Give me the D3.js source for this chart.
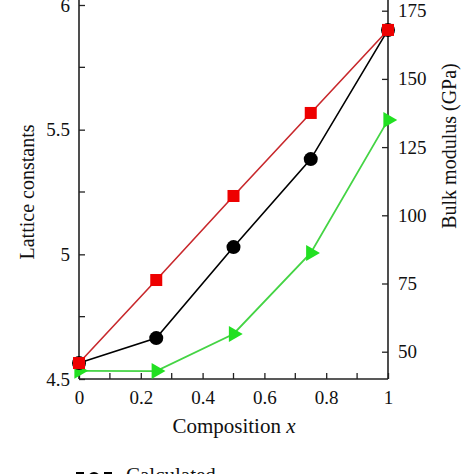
<!DOCTYPE html>
<html><head><meta charset="utf-8">
<script src="https://cdn.jsdelivr.net/npm/d3@7"></script>
<style>html,body{margin:0;padding:0;background:#fff;}svg{display:block;}</style>
</head><body>
<svg id="c" width="474" height="474"></svg>
<script>
const composition = [0, 0.25, 0.5, 0.75, 1];
const vegard = [4.564, 4.897, 5.234, 5.567, 5.90];
const latticeCalc = [4.564, 4.664, 5.029, 5.382, 5.90];
const bulkModulus = [43.0, 42.9, 56.5, 86.2, 134.9];
const xTicks = [0, 0.2, 0.4, 0.6, 0.8, 1];
const xMinor = [0.1, 0.3, 0.5, 0.7, 0.9];
const leftTicks = [4.5, 5, 5.5, 6];
const leftMinor = [4.75, 5.25, 5.75];
const rightTicks = [50, 75, 100, 125, 150, 175];

const svg = d3.select("#c");
const font = "'Liberation Serif', 'DejaVu Serif', serif";
const x = d3.scaleLinear().domain([0, 1]).range([79, 388]);
const yL = d3.scaleLinear().domain([4.5, 6]).range([379, 5]);
const yR = d3.scaleLinear().domain([50, 175]).range([351.7, 10.7]);

const axisColor = "#222";
svg.append("line").attr("x1", x(0)).attr("x2", x(0)).attr("y1", yL(4.5)).attr("y2", yL(6.05)).attr("stroke", axisColor).attr("stroke-width", 1.6);
svg.append("line").attr("x1", x(1)).attr("x2", x(1)).attr("y1", yL(4.5)).attr("y2", yL(6.05)).attr("stroke", axisColor).attr("stroke-width", 1.6);
svg.append("line").attr("x1", x(0)).attr("x2", x(1)).attr("y1", yL(4.5)).attr("y2", yL(4.5)).attr("stroke", axisColor).attr("stroke-width", 1.6);

const tl = 6;
const fs = 19;
const bottom = d3.axisBottom(x).tickValues(xTicks).tickSizeInner(-tl).tickSizeOuter(0).tickPadding(12).tickFormat(d => d === 0 || d === 1 ? String(d) : d3.format(".1f")(d));
const gB = svg.append("g").attr("transform", `translate(0,${yL(4.5)})`).call(bottom);
gB.select(".domain").remove();
gB.selectAll(".tick line").attr("stroke", axisColor).attr("stroke-width", 1.3);
gB.selectAll(".tick text").attr("font-family", font).attr("font-size", fs).attr("fill", "#111");
svg.append("g").selectAll("line").data(xMinor).join("line")
  .attr("x1", d => x(d)).attr("x2", d => x(d)).attr("y1", yL(4.5)).attr("y2", yL(4.5) - tl)
  .attr("stroke", axisColor).attr("stroke-width", 1.3);

const left = d3.axisLeft(yL).tickValues(leftTicks).tickSizeInner(-tl).tickSizeOuter(0).tickPadding(9).tickFormat(d => String(d));
const gL = svg.append("g").attr("transform", `translate(${x(0)},0)`).call(left);
gL.select(".domain").remove();
gL.selectAll(".tick line").attr("stroke", axisColor).attr("stroke-width", 1.3);
gL.selectAll(".tick text").attr("font-family", font).attr("font-size", fs).attr("fill", "#111");
svg.append("g").selectAll("line").data(leftMinor).join("line")
  .attr("x1", x(0)).attr("x2", x(0) + tl).attr("y1", d => yL(d)).attr("y2", d => yL(d))
  .attr("stroke", axisColor).attr("stroke-width", 1.3);

const right = d3.axisRight(yR).tickValues(rightTicks).tickSizeInner(-tl).tickSizeOuter(0).tickPadding(10).tickFormat(d => String(d));
const gR = svg.append("g").attr("transform", `translate(${x(1)},0)`).call(right);
gR.select(".domain").remove();
gR.selectAll(".tick line").attr("stroke", axisColor).attr("stroke-width", 1.3);
gR.selectAll(".tick text").attr("font-family", font).attr("font-size", fs).attr("fill", "#111");

svg.append("text").attr("transform", `translate(34,192) rotate(-90)`).attr("text-anchor", "middle")
  .attr("font-family", font).attr("font-size", 20).attr("fill", "#111").text("Lattice constants");
svg.append("text").attr("transform", `translate(456,146) rotate(-90)`).attr("text-anchor", "middle")
  .attr("font-family", font).attr("font-size", 20).attr("fill", "#111").text("Bulk modulus (GPa)");
const xt = svg.append("text").attr("x", 234).attr("y", 433).attr("text-anchor", "middle")
  .attr("font-family", font).attr("font-size", 21).attr("fill", "#111");
xt.append("tspan").text("Composition ");
xt.append("tspan").attr("font-style", "italic").text("x");

const lineL = d3.line().x((d, i) => x(composition[i])).y(d => yL(d));
const lineR = d3.line().x((d, i) => x(composition[i])).y(d => yR(d));

svg.append("path").datum(bulkModulus).attr("d", lineR).attr("fill", "none").attr("stroke", "#44d444").attr("stroke-width", 1.8);
svg.append("path").datum(latticeCalc).attr("d", lineL).attr("fill", "none").attr("stroke", "#000").attr("stroke-width", 1.6);
svg.append("path").datum(vegard).attr("d", lineL).attr("fill", "none").attr("stroke", "#c8282c").attr("stroke-width", 1.6);

const tri = d3.symbol().type(d3.symbolTriangle).size(110);
svg.append("g").selectAll("path").data(bulkModulus).join("path")
  .attr("d", tri).attr("transform", (d, i) => `translate(${x(composition[i])},${yR(d)}) rotate(90)`)
  .attr("fill", "#22e022");
svg.append("g").selectAll("circle").data(latticeCalc).join("circle")
  .attr("cx", (d, i) => x(composition[i])).attr("cy", d => yL(d)).attr("r", 7).attr("fill", "#000");
svg.append("g").selectAll("rect").data(vegard).join("rect")
  .attr("x", (d, i) => x(composition[i]) - 6).attr("y", d => yL(d) - 6).attr("width", 12).attr("height", 12)
  .attr("fill", "#ee0000");

// legend (cut off at bottom edge, as in the reference)
svg.append("line").attr("x1", 76).attr("x2", 84).attr("y1", 473).attr("y2", 473).attr("stroke", "#000").attr("stroke-width", 2);
svg.append("circle").attr("cx", 94).attr("cy", 478).attr("r", 6).attr("fill", "#000");
svg.append("line").attr("x1", 104).attr("x2", 112).attr("y1", 473).attr("y2", 473).attr("stroke", "#000").attr("stroke-width", 2);
svg.append("text").attr("x", 126).attr("y", 482).attr("font-family", font).attr("font-size", 21).attr("fill", "#111").text("Calculated");
</script>
</body></html>
